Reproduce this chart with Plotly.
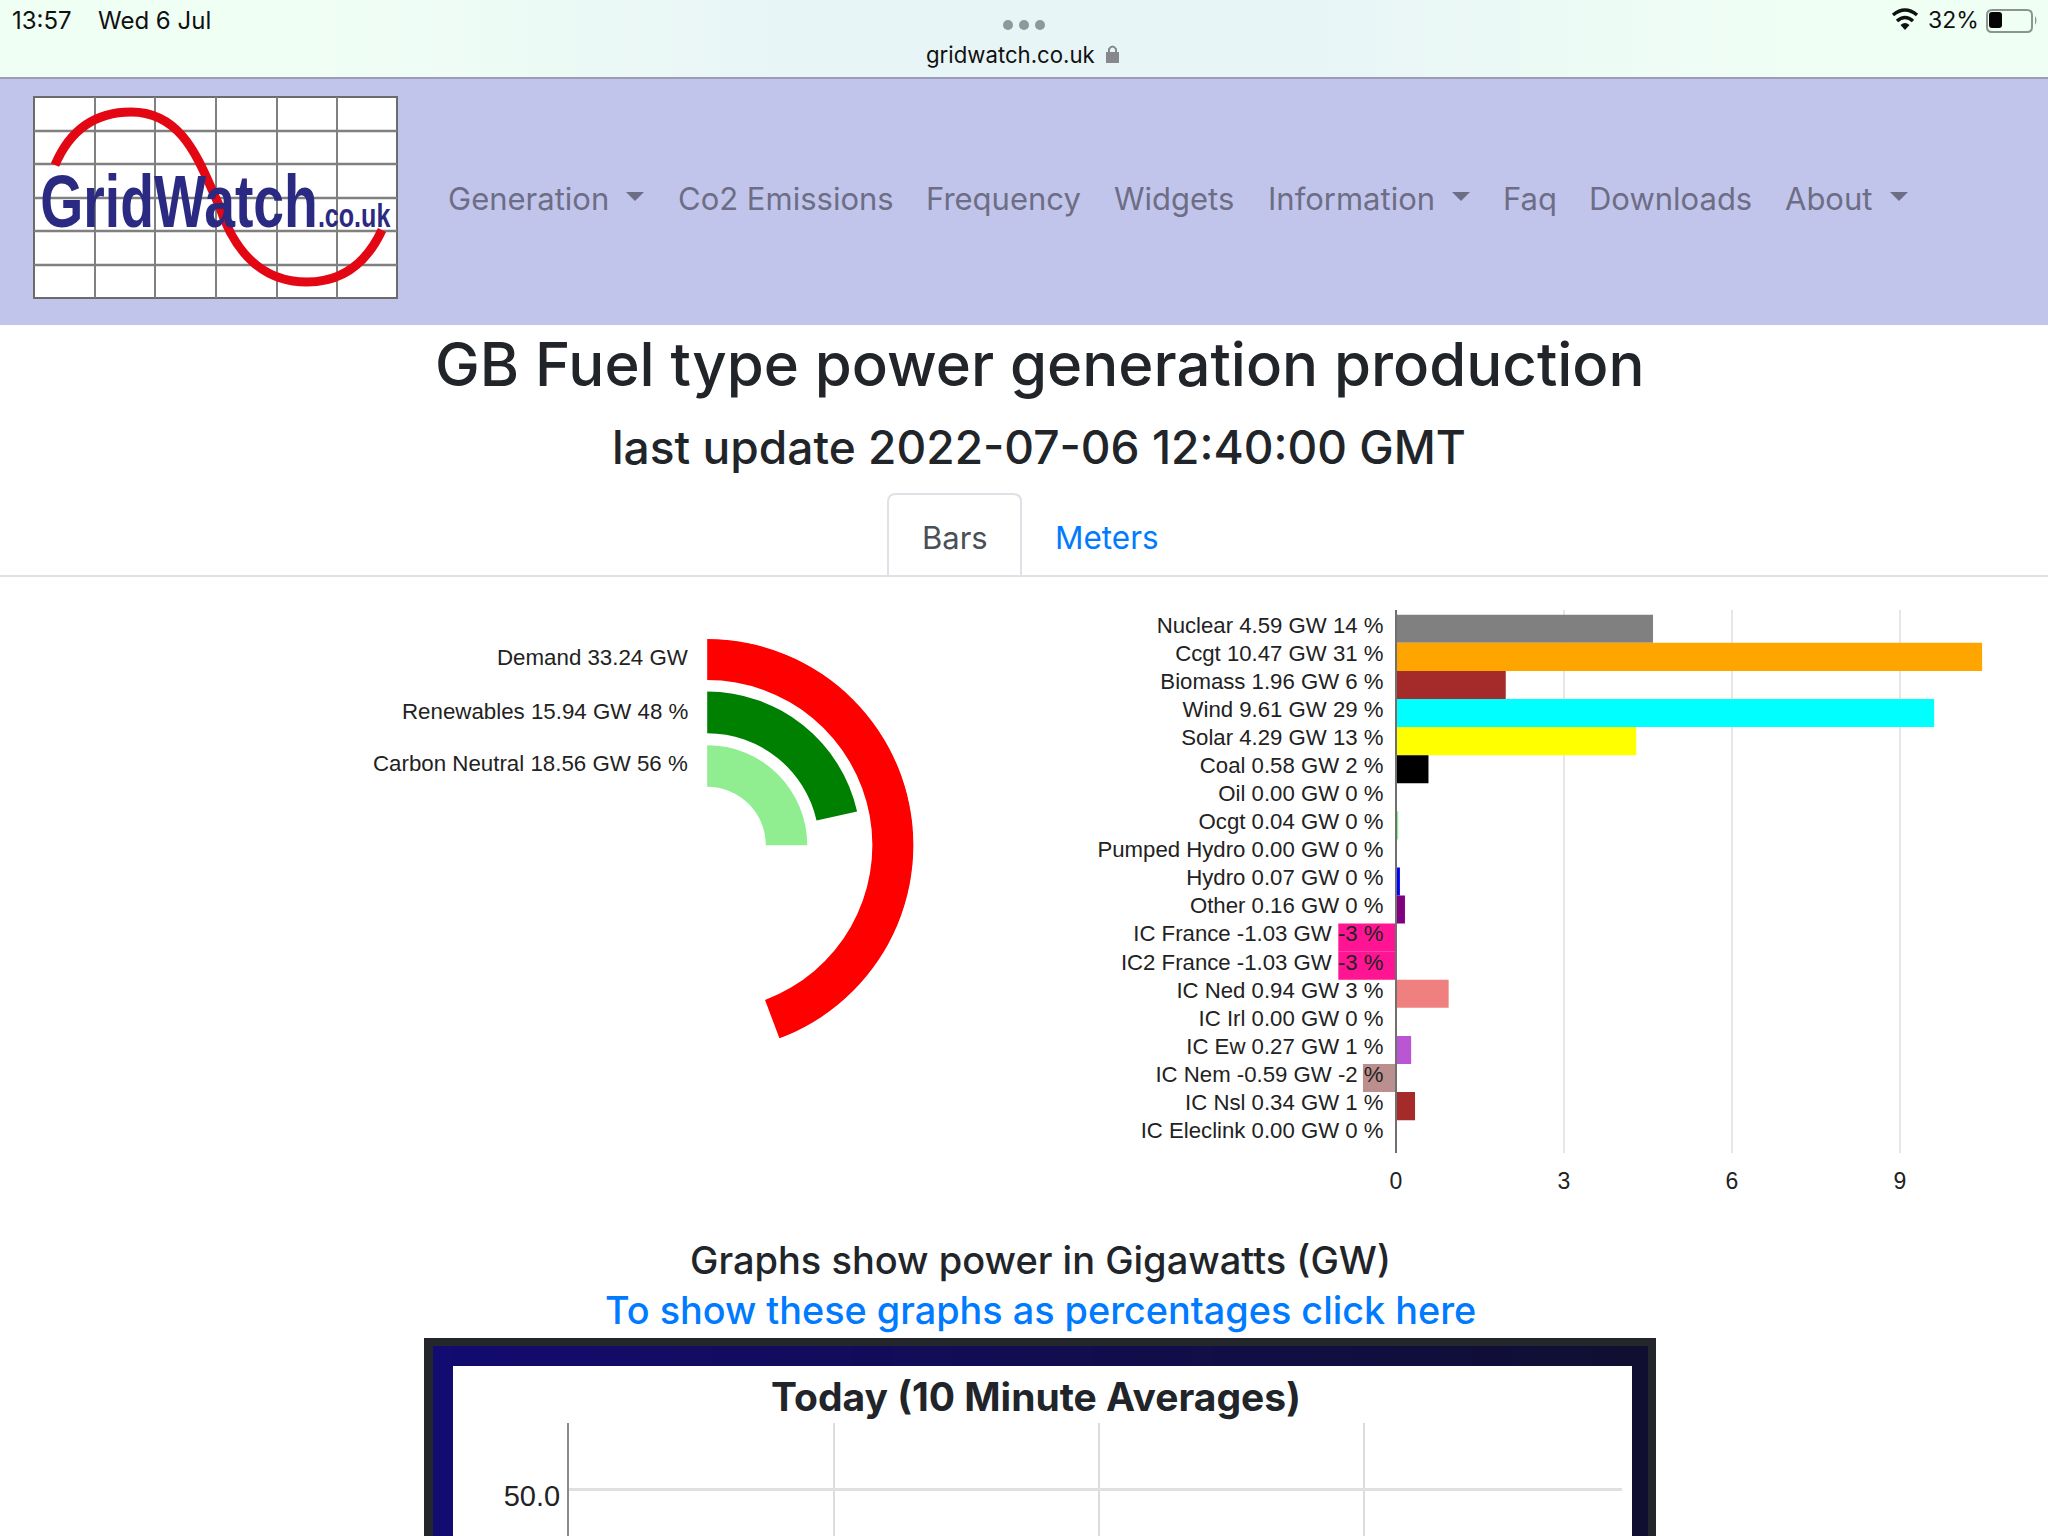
import plotly.graph_objects as go

W, H = 2048, 1536

# horizontal bars
bar_names = ["Nuclear", "Ccgt", "Biomass", "Wind", "Solar", "Coal", "Oil", "Ocgt",
             "Pumped Hydro", "Hydro", "Other", "IC France", "IC2 France", "IC Ned",
             "IC Irl", "IC Ew", "IC Nem", "IC Nsl", "IC Eleclink"]
bar_gw = [4.59, 10.47, 1.96, 9.61, 4.29, 0.58, 0.00, 0.04, 0.00, 0.07, 0.16,
          -1.03, -1.03, 0.94, 0.00, 0.27, -0.59, 0.34, 0.00]
bar_pct = [14, 31, 6, 29, 13, 2, 0, 0, 0, 0, 0, -3, -3, 3, 0, 1, -2, 1, 0]
bar_colors = ["gray", "orange", "brown", "cyan", "yellow", "black", "#444444", "lightgreen",
              "#4444aa", "blue", "purple", "deeppink", "deeppink", "lightcoral",
              "#dddddd", "mediumorchid", "rosybrown", "brown", "#dddddd"]
bar_ticks = [0, 3, 6, 9]

gauge_names = ["Demand", "Renewables", "Carbon Neutral"]
gauge_gw = [33.24, 15.94, 18.56]
gauge_pct = [None, 48, 56]
gauge_sweep = [159.5, 77.3, 90.0]
gauge_colors = ["red", "green", "lightgreen"]

nav_items = [("Generation", 447), ("Co2 Emissions", 677), ("Frequency", 925), ("Widgets", 1113),
             ("Information", 1267), ("Faq", 1502), ("Downloads", 1588), ("About", 1784)]
nav_carets = [635, 1461, 1899]


def px(x):
    return x / W


def py(y):
    return 1 - y / H


def mix(c1, c2, t):
    return "rgb(%d,%d,%d)" % tuple(round(a + (b - a) * t) for a, b in zip(c1, c2))


shapes = []
annotations = []


def rect(x0, y0, x1, y1, fill, line=None, lw=0):
    shapes.append(dict(type="rect", xref="paper", yref="paper", x0=px(x0), x1=px(x1), y0=py(y0), y1=py(y1),
                       fillcolor=fill, line=dict(color=line or fill, width=lw), layer="below"))


def hline(x0, y0, x1, y1, color, lw):
    shapes.append(dict(type="line", xref="paper", yref="paper", x0=px(x0), x1=px(x1), y0=py(y0), y1=py(y1),
                       line=dict(color=color, width=lw), layer="below"))


def path(points, fill=None, line=None, lw=0):
    # svg path in page pixels, goes through the hidden x9/y9 helper axes
    shapes.append(dict(type="path", xref="x9", yref="y9", path=points, fillcolor=fill or "rgba(0,0,0,0)",
                       line=dict(color=line or "rgba(0,0,0,0)", width=lw), layer="below"))


def label(x, y, text, size, color="#212529", anchor="center", font="Inter", weight=400):
    annotations.append(dict(xref="paper", yref="paper", x=px(x), y=py(y), text=text, showarrow=False,
                            xanchor=anchor, yanchor="middle", borderpad=0,
                            font=dict(family=font, size=size, color=color, weight=weight)))


# browser bar
mint, ice = (240, 255, 244), (232, 245, 247)
for i in range(0, W, 16):
    d = abs(i + 8 - 1050) / 1000
    t = max(0, min(1, (0.75 - d) / 0.5))
    rect(i, 0, i + 16, 78, mix(mint, ice, t))
hline(0, 78, W, 78, "#9a9cb8", 2)
label(11, 20, "13:57", 24, "#111111", "left")
label(97, 20, "Wed 6 Jul", 24, "#111111", "left")
label(1010, 54, "gridwatch.co.uk", 22.2, "#111111")
label(1927, 20, "32%", 23, "#111111", "left")
for cx in (1008, 1024, 1040):
    shapes.append(dict(type="circle", xref="paper", yref="paper", x0=px(cx - 5), x1=px(cx + 5), y0=py(30), y1=py(20),
                       fillcolor="#8d9a9c", line_width=0, layer="below"))
path("M1106,52 H1119 V63 H1106 Z", fill="#85898c")
path("M1109,52 V49 Q1112.5,44 1116,49 V52", line="#85898c", lw=2)
path("M1893,15 Q1905,5 1917,15", line="#111111", lw=3.5)
path("M1897,21 Q1905,14 1913,21", line="#111111", lw=3.5)
path("M1900.5,25 Q1905,21 1909.5,25 L1905,30 Z", fill="#111111")
path("M1992,10 H2027 Q2032,10 2032,15 V27 Q2032,32 2027,32 H1992 Q1987,32 1987,27 V15 Q1987,10 1992,10 Z",
     line="#8b9490", lw=2)
path("M1992,12 H1999 Q2002,12 2002,15 V25 Q2002,28 1999,28 H1992 Q1989,28 1989,25 V15 Q1989,12 1992,12 Z",
     fill="#050505")
path("M2035,16 Q2038,20 2035,25 Z", fill="#8b9490")

# site nav
rect(0, 79, W, 325, "#c2c5eb")
for name, x in nav_items:
    label(x, 199, name, 31, "#6d6e85", "left")
for cx in nav_carets:
    path(f"M{cx - 9},192 H{cx + 9} L{cx},201 Z", fill="#6d6e85")

# logo
rect(34, 97, 397, 298, "white", "#6b6b6b", 2)
for gx in (95, 155, 216, 277, 337):
    hline(gx, 97, gx, 298, "#808080", 2)
for gy in (131, 164, 198, 231, 265):
    hline(34, gy, 397, gy, "#808080", 2.5)
path("M55,165 C72,125 100,112 131,112 C185,112 200,165 219,205 C235,255 265,282 307,282 C345,282 368,260 382,230",
     line="#e30613", lw=9)
label(215, 201, "GridWatch<span style='font-size:34px'>.co.uk</span>", 75, "#2a2a82",
      font="Liberation Sans", weight=700)

# headings and tabs
label(1040, 364, "GB Fuel type power generation production", 59.9, weight=500)
label(1039, 447, "last update 2022-07-06 12:40:00 GMT", 46.1, weight=500)
hline(0, 576, W, 576, "#dee2e6", 2)
path("M888,576 V502 Q888,494 896,494 H1013 Q1021,494 1021,502 V576 Z", fill="white", line="#dee2e6", lw=2)
label(955, 537, "Bars", 31, "#495057")
label(1107, 537, "Meters", 31.5, "#007bff")
label(1040, 1260, "Graphs show power in Gigawatts (GW)", 38, weight=500)
label(1040, 1310, "To show these graphs as percentages click here", 37.8, "#007bff", weight=500)

# today card
rect(424, 1338, 1656, H, "#23272b")
navy, dusk = (18, 11, 112), (16, 15, 48)
for i in range(433, 1648, 20):
    rect(i, 1346, min(i + 20, 1648), H, mix(navy, dusk, (i - 433) / 1215))
rect(453, 1366, 1632, H, "white")
label(1036, 1396, "Today (10 Minute Averages)", 39, weight=700)

gauge_labels = [f"{n} {v:.2f} GW" + (f" {p} %" if p is not None else "")
                for n, v, p in zip(gauge_names, gauge_gw, gauge_pct)]
for text, gy in zip(gauge_labels, (657, 711, 764)):
    label(689, gy, text, 22.3, "#222222", "right", "Liberation Sans")

bar_labels = [f"{n} {v:.2f} GW {p} %" for n, v, p in zip(bar_names, bar_gw, bar_pct)]

fig = go.Figure()
fig.add_trace(go.Barpolar(r=[41.5, 41.5, 41.5], base=[165, 112, 58.5],
                          theta=[d / 2 for d in gauge_sweep], width=gauge_sweep,
                          marker=dict(color=gauge_colors, line_width=0), hoverinfo="skip"))
fig.add_trace(go.Bar(x=bar_gw, y=bar_labels, orientation="h", width=1,
                     marker=dict(color=bar_colors, line_width=0)))
# empty today chart, only the top of it is on the page
fig.add_trace(go.Scatter(x=[None], y=[None], xaxis="x2", yaxis="y2", mode="lines"))
# helper axes so logo and icon paths can be given in page pixels
fig.add_trace(go.Scatter(x=[None], y=[None], xaxis="x9", yaxis="y9", mode="lines"))

fig.update_layout(
    width=W, height=H, margin=dict(l=0, r=0, t=0, b=0), showlegend=False,
    paper_bgcolor="white", plot_bgcolor="rgba(0,0,0,0)",
    shapes=shapes, annotations=annotations,
    polar=dict(
        domain=dict(x=[px(501), px(913.4)], y=[py(1051.5), py(639)]),
        bgcolor="rgba(0,0,0,0)",
        radialaxis=dict(visible=False, range=[0, 206]),
        angularaxis=dict(visible=False, rotation=90, direction="clockwise"),
    ),
    xaxis=dict(domain=[px(1396 - 1.2 * 56), px(1982.3)], range=[-1.2, 10.47], tickvals=bar_ticks, showgrid=True,
               gridcolor="#e6e6e6", gridwidth=2, zeroline=False, showline=False, ticks="", automargin=False,
               tickfont=dict(family="Liberation Sans", size=23, color="#222222"), ticklabelstandoff=12),
    yaxis=dict(domain=[py(1153), py(610)], range=[18.67, -0.67], type="category", showgrid=False,
               anchor="free", position=px(1396), automargin=False,
               zeroline=False, showline=True, linecolor="#707070", linewidth=2, ticks="", dtick=1,
               tickfont=dict(family="Liberation Sans", size=22.2, color="#222222"),
               ticklabelstandoff=7, ticklabelshift=4),
    xaxis2=dict(domain=[px(569), px(1622)], range=[0, 23.85], tickvals=[6, 12, 18], anchor="y2", automargin=False,
                showticklabels=False, gridcolor="#dcdcdc", gridwidth=2, zeroline=False, ticks=""),
    yaxis2=dict(domain=[0, py(1423)], range=[45.4, 56.6], tickvals=[50], tickformat=".1f", anchor="x2",
                gridcolor="#e0e0e0", gridwidth=3, zeroline=False, showline=True, linecolor="#8a8a8a",
                linewidth=2, ticks="", ticklabelstandoff=1, ticklabelshift=6, automargin=False,
                tickfont=dict(family="Liberation Sans", size=29, color="#222222")),
    xaxis9=dict(domain=[0, 1], range=[0, W], visible=False, fixedrange=True, automargin=False),
    yaxis9=dict(domain=[0, 1], range=[H, 0], visible=False, fixedrange=True, anchor="x9", automargin=False),
)

# logo lettering is condensed, no narrow font here so squeeze the svg text
squeeze = """
document.body.style.margin = '0';
document.querySelectorAll('text.annotation-text').forEach(function (t) {
    if (t.textContent === 'GridWatch.co.uk') {
        t.setAttribute('textLength', 350);
        t.setAttribute('lengthAdjust', 'spacingAndGlyphs');
    }
});
"""
fig.write_html("out.html", config={"displayModeBar": False}, post_script=squeeze)
